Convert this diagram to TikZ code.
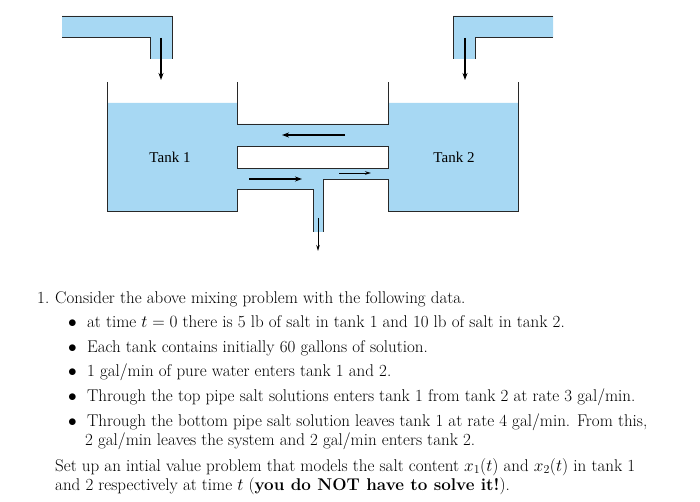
\documentclass[tikz,border=0pt]{standalone}
\usetikzlibrary{arrows.meta}
\usepackage{fontspec}
\newfontfamily\tankfont{Liberation Serif}
\definecolor{water}{RGB}{167,216,243}
\definecolor{wall}{RGB}{40,40,40}
\tikzset{
  wallline/.style={draw=wall,line width=0.9pt},
  flow/.style={-{Stealth[length=7pt,width=5pt]},line width=1.6pt,black},
  smallflow/.style={-{Stealth[length=6pt,width=3.5pt]},line width=0.9pt,black},
  txt/.style={anchor=base west,inner sep=0pt,font=\fontsize{17}{19}\selectfont},
  lbl/.style={inner sep=0pt,font=\tankfont\fontsize{15}{16}\selectfont}
}
\begin{document}
\begin{tikzpicture}[x=1pt,y=-1pt]
\useasboundingbox (0,0) rectangle (700,502);
% water
\fill[water] (107,103)--(237,103)--(237,124)--(388,124)--(388,103)--(518,103)--(518,211)--(388,211)--(388,179)--(323,179)--(323,232)--(313,232)--(313,189)--(237,189)--(237,211)--(107,211)--cycle;
\fill[water] (62,16)--(172,16)--(172,59)--(150,59)--(150,37)--(62,37)--cycle;
\fill[water] (553,16)--(453,16)--(453,59)--(475,59)--(475,37)--(553,37)--cycle;
% walls
\draw[wallline] (107,82)--(107,211)--(237,211)--(237,189)--(313,189)--(313,232);
\draw[wallline] (323,232)--(323,179)--(388,179)--(388,211)--(518,211)--(518,82);
\draw[wallline] (237,82)--(237,124)--(388,124)--(388,82);
\draw[wallline,fill=white] (237,146) rectangle (388,168);
\draw[wallline] (62,16)--(172,16)--(172,59);
\draw[wallline] (62,37)--(150,37)--(150,59);
\draw[wallline] (553,16)--(453,16)--(453,59);
\draw[wallline] (553,37)--(475,37)--(475,59);
% arrow endpoints
\coordinate (in1a) at (161,38); \coordinate (in1b) at (161,80);
\coordinate (in2a) at (465,38); \coordinate (in2b) at (465,80);
\coordinate (topa) at (345,135); \coordinate (topb) at (282,135);
\coordinate (bota) at (249,179); \coordinate (botb) at (302,179);
\coordinate (sma) at (339,173); \coordinate (smb) at (371,173);
\coordinate (dra) at (318,218); \coordinate (drb) at (318,251);
\draw[flow] (in1a)--(in1b);
\draw[flow] (in2a)--(in2b);
\draw[flow] (topa)--(topb);
\draw[flow] (bota)--(botb);
\draw[smallflow] (sma)--(smb);
\draw[smallflow] (dra)--(drb);
\node[lbl] (t1) at (170,157) {Tank 1};
\node[lbl] (t2) at (454,157) {Tank 2};
% text
\node[txt] (n0) at (37,303) {1.};
\node[txt] (l0) at (55,303) {Consider the above mixing problem with the following data.};
\node[txt] (b1) at (68,327) {$\bullet$\ \ at time $t=0$ there is 5 lb of salt in tank 1 and 10 lb of salt in tank 2.};
\node[txt] (b2) at (68,352) {$\bullet$\ \ Each tank contains initially 60 gallons of solution.};
\node[txt] (b3) at (68,376) {$\bullet$\ \ 1 gal/min of pure water enters tank 1 and 2.};
\node[txt] (b4) at (68,401) {$\bullet$\ \ Through the top pipe salt solutions enters tank 1 from tank 2 at rate 3 gal/min.};
\node[txt] (b5) at (68,426) {$\bullet$\ \ Through the bottom pipe salt solution leaves tank 1 at rate 4 gal/min. From this,};
\node[txt] (b6) at (85,445) {2 gal/min leaves the system and 2 gal/min enters tank 2.};
\node[txt] (s1) at (55,471) {Set up an intial value problem that models the salt content $x_1(t)$ and $x_2(t)$ in tank 1};
\node[txt] (s2) at (55,490) {and 2 respectively at time $t$ (\textbf{you do NOT have to solve it!}).};
\end{tikzpicture}
\end{document}
